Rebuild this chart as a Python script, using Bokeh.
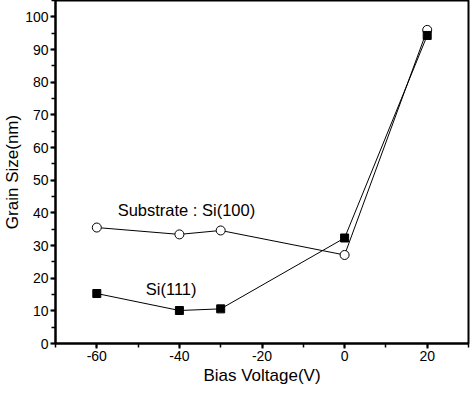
from bokeh.plotting import figure
from bokeh.models import SingleIntervalTicker, Range1d, Label
from bokeh.embed import file_html
from bokeh.resources import INLINE

bias = [-60, -40, -30, 0, 20]
si100 = [35.5, 33.4, 34.6, 27.1, 96.0]
si111 = [15.3, 10.1, 10.6, 32.3, 94.3]
xticks = [-60, -40, -20, 0, 20]

p = figure(width=470, height=387,
           output_backend="svg", toolbar_location=None,
           x_range=Range1d(-70, 30), y_range=Range1d(0, 105),
           min_border_left=30, min_border_right=2, min_border_top=0, min_border_bottom=30)
p.grid.visible = False
p.background_fill_color = "white"
p.outline_line_color = "black"
p.outline_line_width = 2

p.line(bias, si100, line_color="black", line_width=1)
p.scatter(bias, si100, marker="circle", size=9, fill_color="white", line_color="black", line_width=1)
p.line(bias, si111, line_color="black", line_width=1)
p.scatter(bias, si111, marker="square", size=8, fill_color="black", line_color="black")

p.xaxis.ticker = SingleIntervalTicker(interval=20, num_minor_ticks=2)
p.yaxis.ticker = SingleIntervalTicker(interval=10, num_minor_ticks=2)
p.xaxis.major_label_overrides = {t: str(t) for t in xticks}
for ax in (p.xaxis[0], p.yaxis[0]):
    ax.axis_line_width = 2
    ax.major_tick_line_width = 2
    ax.minor_tick_line_width = 1.5
    ax.major_tick_out = 5
    ax.major_tick_in = 0
    ax.minor_tick_out = 4
    ax.minor_tick_in = 0
    ax.major_label_standoff = 2
    ax.major_label_text_font = "Liberation Sans"
    ax.major_label_text_font_size = "14px"
    ax.major_label_text_color = "black"
    ax.axis_label_text_font = "Liberation Sans"
    ax.axis_label_text_font_size = "17px"
    ax.axis_label_text_font_style = "normal"
    ax.axis_label_text_color = "black"
    ax.minor_tick_line_color = "black"
    ax.major_tick_line_color = "black"
    ax.axis_line_color = "black"
p.xaxis.axis_label = "Bias Voltage(V)"
p.yaxis.axis_label = "Grain Size(nm)"
p.xaxis.axis_label_standoff = 2
p.yaxis.axis_label_standoff = 0

p.add_layout(Label(x=-38.3, y=40.8, text="Substrate : Si(100)", text_align="center",
                   text_baseline="middle", text_font="Liberation Sans", text_font_size="16.5px",
                   text_color="black"))
p.add_layout(Label(x=-42, y=16.6, text="Si(111)", text_align="center",
                   text_baseline="middle", text_font="Liberation Sans", text_font_size="16.5px",
                   text_color="black"))

open("out.html", "w").write(file_html(p, INLINE))
